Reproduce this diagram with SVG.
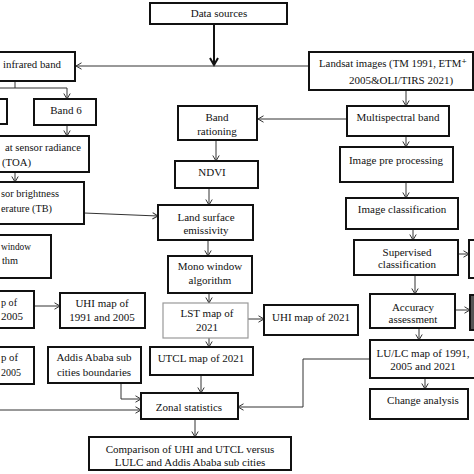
<svg xmlns="http://www.w3.org/2000/svg" width="474" height="474" viewBox="0 0 474 474">
<style>
.b{fill:#fff;stroke:#111;stroke-width:2}
.g{fill:#fff;stroke:#999;stroke-width:1.2}
.d{fill:#555;stroke:#111;stroke-width:2}
text{font-family:"Liberation Serif","Times New Roman","DejaVu Serif",serif;font-size:11px;fill:#111}
.c{text-anchor:middle}
.e{text-anchor:end}
.l{fill:none;stroke:#333;stroke-width:1}
.t{fill:none;stroke:#111;stroke-width:2}
</style>
<defs>
<marker id="a" markerUnits="userSpaceOnUse" markerWidth="8" markerHeight="8" refX="6" refY="4" orient="auto"><path d="M0.5,0.8 L6,4 L0.5,7.2" fill="none" stroke="#333" stroke-width="1"/></marker>
<marker id="at" markerUnits="userSpaceOnUse" markerWidth="10" markerHeight="10" refX="8" refY="5" orient="auto"><path d="M1,1 L8,5 L1,9" fill="none" stroke="#111" stroke-width="2"/></marker>
</defs>
<rect width="474" height="474" fill="#fff"/>
<g id="connectors">
<path class="t" d="M214,24 V65" marker-end="url(#at)"/>
<path class="l" d="M309,66 H76" marker-end="url(#a)"/>
<path class="l" d="M15,81 V88"/>
<path class="l" d="M0,88 H67 V99" marker-end="url(#a)"/>
<path class="l" d="M67,125 V136" marker-end="url(#a)"/>
<path class="l" d="M15,172 V182" marker-end="url(#a)"/>
<path class="l" d="M84,213 L158,216" marker-end="url(#a)"/>
<path class="l" d="M34,306 H60" marker-end="url(#a)"/>
<path class="l" d="M0,410 H141" marker-end="url(#a)"/>
<path class="l" d="M121,383 V399 H141" marker-end="url(#a)"/>
<path class="l" d="M347,119 H258" marker-end="url(#a)"/>
<path class="l" d="M216,140 V161" marker-end="url(#a)"/>
<path class="l" d="M209,188 V205" marker-end="url(#a)"/>
<path class="l" d="M208,240 V256" marker-end="url(#a)"/>
<path class="l" d="M209,293 V303" marker-end="url(#a)"/>
<path class="l" d="M248,319 H264" marker-end="url(#a)"/>
<path class="l" d="M209,338 V347" marker-end="url(#a)"/>
<path class="l" d="M201,375 V393" marker-end="url(#a)"/>
<path class="l" d="M370,359 H303 V407 H238" marker-end="url(#a)"/>
<path class="l" d="M195,419 V437" marker-end="url(#a)"/>
<path class="l" d="M406,90 V106" marker-end="url(#a)"/>
<path class="l" d="M406,136 V147" marker-end="url(#a)"/>
<path class="l" d="M406,182 V198" marker-end="url(#a)"/>
<path class="l" d="M413,229 V240" marker-end="url(#a)"/>
<path class="l" d="M458,254 H469" marker-end="url(#a)"/>
<path class="l" d="M415,275 V294" marker-end="url(#a)"/>
<path class="l" d="M455,310 H470" marker-end="url(#a)"/>
<path class="l" d="M419,328 V340" marker-end="url(#a)"/>
<path class="l" d="M425,378 V389" marker-end="url(#a)"/>
</g>
<g id="data-sources"><rect class="b" x="150" y="3" width="137" height="21"/><text class="c" x="219" y="17">Data sources</text></g>
<g id="infrared-band"><rect class="b" x="-4" y="52" width="79" height="29"/><text x="3" y="68" textLength="58" lengthAdjust="spacingAndGlyphs">infrared band</text></g>
<g id="left-box"><rect class="b" x="-4" y="99" width="11" height="25"/></g>
<g id="band6"><rect class="b" x="34" y="99" width="62" height="26"/><text class="c" x="66" y="114">Band 6</text></g>
<g id="toa"><rect class="b" x="-4" y="136" width="93" height="36"/><text x="5" y="151" textLength="76" lengthAdjust="spacingAndGlyphs">at sensor radiance</text><text x="2" y="166" textLength="29" lengthAdjust="spacingAndGlyphs">(TOA)</text></g>
<g id="tb"><rect class="b" x="-4" y="182" width="88" height="42"/><text x="1" y="197" textLength="58" lengthAdjust="spacingAndGlyphs">sor brightness</text><text x="1" y="212" textLength="51" lengthAdjust="spacingAndGlyphs">erature (TB)</text></g>
<g id="window"><rect class="b" x="-4" y="235" width="55" height="43"/><text x="1" y="250" textLength="30" lengthAdjust="spacingAndGlyphs">window</text><text x="2" y="264" textLength="16" lengthAdjust="spacingAndGlyphs">thm</text></g>
<g id="map1"><rect class="b" x="-4" y="291" width="38" height="37"/><text x="1" y="306" textLength="16" lengthAdjust="spacingAndGlyphs">p of</text><text x="1" y="320" textLength="22" lengthAdjust="spacingAndGlyphs">2005</text></g>
<g id="uhi-1991"><rect class="b" x="60" y="293" width="85" height="35"/><text class="c" x="102" y="307">UHI map of</text><text class="c" x="102" y="321">1991 and 2005</text></g>
<g id="map2"><rect class="b" x="-4" y="347" width="38" height="37"/><text x="1" y="361" textLength="17" lengthAdjust="spacingAndGlyphs">p of</text><text x="1" y="376" textLength="20" lengthAdjust="spacingAndGlyphs">2005</text></g>
<g id="addis"><rect class="b" x="48" y="347" width="93" height="36"/><text class="c" x="94" y="361">Addis Ababa sub</text><text class="c" x="94" y="376">cities boundaries</text></g>
<g id="band-rationing"><rect class="b" x="178" y="106" width="79" height="34"/><text class="c" x="217" y="121">Band</text><text class="c" x="217" y="135">rationing</text></g>
<g id="ndvi"><rect class="b" x="175" y="161" width="83" height="27"/><text class="c" x="212" y="176">NDVI</text></g>
<g id="lse"><rect class="b" x="158" y="205" width="95" height="35"/><text class="c" x="206" y="221">Land surface</text><text class="c" x="206" y="234">emissivity</text></g>
<g id="mono"><rect class="b" x="168" y="256" width="84" height="37"/><text class="c" x="210" y="270">Mono window</text><text class="c" x="210" y="284">algorithm</text></g>
<g id="lst"><rect class="g" x="163" y="303" width="85" height="35"/><text class="c" x="207" y="317">LST map of</text><text class="c" x="207" y="331">2021</text></g>
<g id="uhi-2021"><rect class="b" x="264" y="305" width="94" height="30"/><text class="c" x="311" y="321">UHI map of 2021</text></g>
<g id="utcl"><rect class="b" x="150" y="347" width="103" height="28"/><text class="c" x="201" y="362">UTCL map of 2021</text></g>
<g id="zonal"><rect class="b" x="141" y="393" width="97" height="26"/><text class="c" x="189" y="411">Zonal statistics</text></g>
<g id="comparison"><rect class="b" x="89" y="437" width="202" height="33"/><text class="c" x="190" y="453">Comparison of UHI and UTCL versus</text><text class="c" x="190" y="466">LULC and Addis Ababa sub cities</text></g>
<g id="landsat"><rect class="b" x="309" y="52" width="164" height="38"/><text x="319" y="67" textLength="148" lengthAdjust="spacingAndGlyphs">Landsat images (TM 1991, ETM⁺</text><text class="c" x="401" y="84">2005&amp;OLI/TIRS 2021)</text></g>
<g id="multispectral"><rect class="b" x="347" y="106" width="102" height="30"/><text class="c" x="398" y="121">Multispectral band</text></g>
<g id="preprocessing"><rect class="b" x="340" y="147" width="113" height="35"/><text class="c" x="396" y="164">Image pre processing</text></g>
<g id="classification"><rect class="b" x="346" y="198" width="112" height="31"/><text class="c" x="402" y="213">Image classification</text></g>
<g id="supervised"><rect class="b" x="354" y="240" width="104" height="35"/><text class="c" x="407" y="256">Supervised</text><text class="c" x="407" y="268">classification</text></g>
<g id="right-box-1"><rect class="b" x="469" y="240" width="10" height="38"/></g>
<g id="accuracy"><rect class="b" x="370" y="294" width="85" height="34"/><text class="c" x="413" y="311">Accuracy</text><text class="c" x="413" y="323">assessment</text></g>
<g id="right-box-2"><rect class="d" x="470" y="295" width="10" height="35"/></g>
<g id="lulc"><rect class="b" x="370" y="340" width="108" height="38"/><text class="c" x="423" y="357">LU/LC map of 1991,</text><text class="c" x="423" y="370">2005 and 2021</text></g>
<g id="change"><rect class="b" x="370" y="389" width="98" height="30"/><text class="c" x="423" y="404">Change analysis</text></g>
</svg>
